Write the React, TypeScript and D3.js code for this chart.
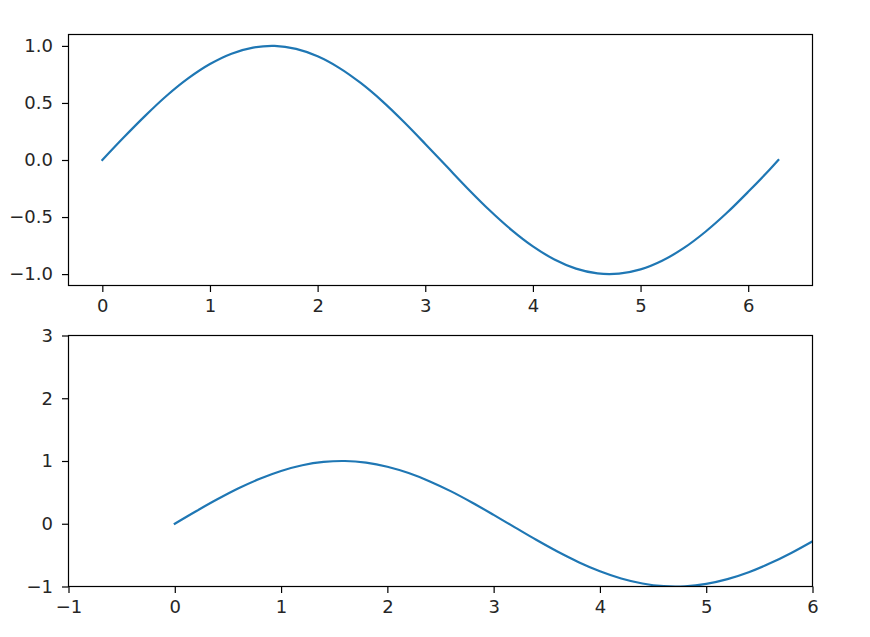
import React, { useEffect, useRef } from 'react';
import * as d3 from 'd3';

// sine-like curve
const xValues = [0, 0.2, 0.4, 0.6, 0.8, 1.0, 1.2, 1.4, 1.6, 1.8, 2.0, 2.2, 2.4, 2.6, 2.8, 3.0,
  3.2, 3.4, 3.6, 3.8, 4.0, 4.2, 4.4, 4.6, 4.8, 5.0, 5.2, 5.4, 5.6, 5.8, 6.0, 6.2, 6.28];
const yValues = [0, 0.199, 0.389, 0.565, 0.717, 0.841, 0.932, 0.985, 1.0, 0.974, 0.909, 0.808, 0.675, 0.516, 0.335, 0.141,
  -0.058, -0.256, -0.443, -0.612, -0.757, -0.872, -0.952, -0.994, -0.996, -0.959, -0.883, -0.773, -0.631, -0.465, -0.279, -0.083, 0];

const topXTicks = [0, 1, 2, 3, 4, 5, 6];
const topYTicks = [-1.0, -0.5, 0.0, 0.5, 1.0];
const bottomXTicks = [-1, 0, 1, 2, 3, 4, 5, 6];
const bottomYTicks = [-1, 0, 1, 2, 3];

const W = 870;
const H = 637;

const minus = (s: string) => s.replace("-", "\u2212");

const App: React.FC = () => {
  const svgRef = useRef<SVGSVGElement>(null);

  useEffect(() => {
    if (!svgRef.current) return;
    const svg = d3.select(svgRef.current);
    svg.selectAll("*").remove();

    const points = xValues.map((x, i) => ({ x, y: yValues[i] }));
    const font = "'DejaVu Sans', sans-serif";

    const drawPanel = (
      id: string,
      box: { left: number; top: number; right: number; bottom: number },
      xDomain: [number, number],
      yDomain: [number, number],
      xTicks: number[],
      yTicks: number[],
      xFmt: (d: number) => string,
      yFmt: (d: number) => string
    ) => {
      const xScale = d3.scaleLinear().domain(xDomain).range([box.left, box.right]);
      const yScale = d3.scaleLinear().domain(yDomain).range([box.bottom, box.top]);

      svg.append("clipPath")
        .attr("id", id)
        .append("rect")
        .attr("x", box.left)
        .attr("y", box.top)
        .attr("width", box.right - box.left)
        .attr("height", box.bottom - box.top);

      const line = d3.line<{ x: number; y: number }>()
        .x(d => xScale(d.x))
        .y(d => yScale(d.y))
        .curve(d3.curveCatmullRom.alpha(0.5));

      svg.append("path")
        .datum(points)
        .attr("clip-path", `url(#${id})`)
        .attr("fill", "none")
        .attr("stroke", "#1f77b4")
        .attr("stroke-width", 2.2)
        .attr("stroke-linecap", "square")
        .attr("d", line);

      // x axis
      const xAxis = svg.append("g")
        .attr("transform", `translate(0,${box.bottom})`)
        .call(d3.axisBottom(xScale).tickValues(xTicks).tickSize(6.5).tickPadding(7)
          .tickFormat(d => xFmt(d as number)));
      // y axis
      const yAxis = svg.append("g")
        .attr("transform", `translate(${box.left},0)`)
        .call(d3.axisLeft(yScale).tickValues(yTicks).tickSize(6.5).tickPadding(9)
          .tickFormat(d => yFmt(d as number)));

      [xAxis, yAxis].forEach(ax => {
        ax.select(".domain").remove();
        ax.selectAll("line").attr("stroke", "#000").attr("stroke-width", 1.2);
        ax.selectAll("text")
          .attr("fill", "#262626")
          .style("font-family", font)
          .style("font-size", "18px");
      });

      // frame
      svg.append("rect")
        .attr("x", box.left)
        .attr("y", box.top)
        .attr("width", box.right - box.left)
        .attr("height", box.bottom - box.top)
        .attr("fill", "none")
        .attr("stroke", "#000")
        .attr("stroke-width", 1.2);
    };

    drawPanel("clipTop", { left: 68.5, top: 34.5, right: 812.5, bottom: 285.5 },
      [-0.3142, 6.5973], [-1.1, 1.1], topXTicks, topYTicks,
      d => minus(String(d)), d => minus(d3.format(".1f")(d)));

    drawPanel("clipBottom", { left: 68.5, top: 335.5, right: 812.5, bottom: 586.5 },
      [-1, 6], [-1, 3], bottomXTicks, bottomYTicks,
      d => minus(String(d)), d => minus(String(d)));
  }, []);

  return (
    <div style={{ position: 'absolute', left: 0, top: 0, background: '#fff' }}>
      <svg ref={svgRef} width={W} height={H} />
    </div>
  );
};

export default App;
